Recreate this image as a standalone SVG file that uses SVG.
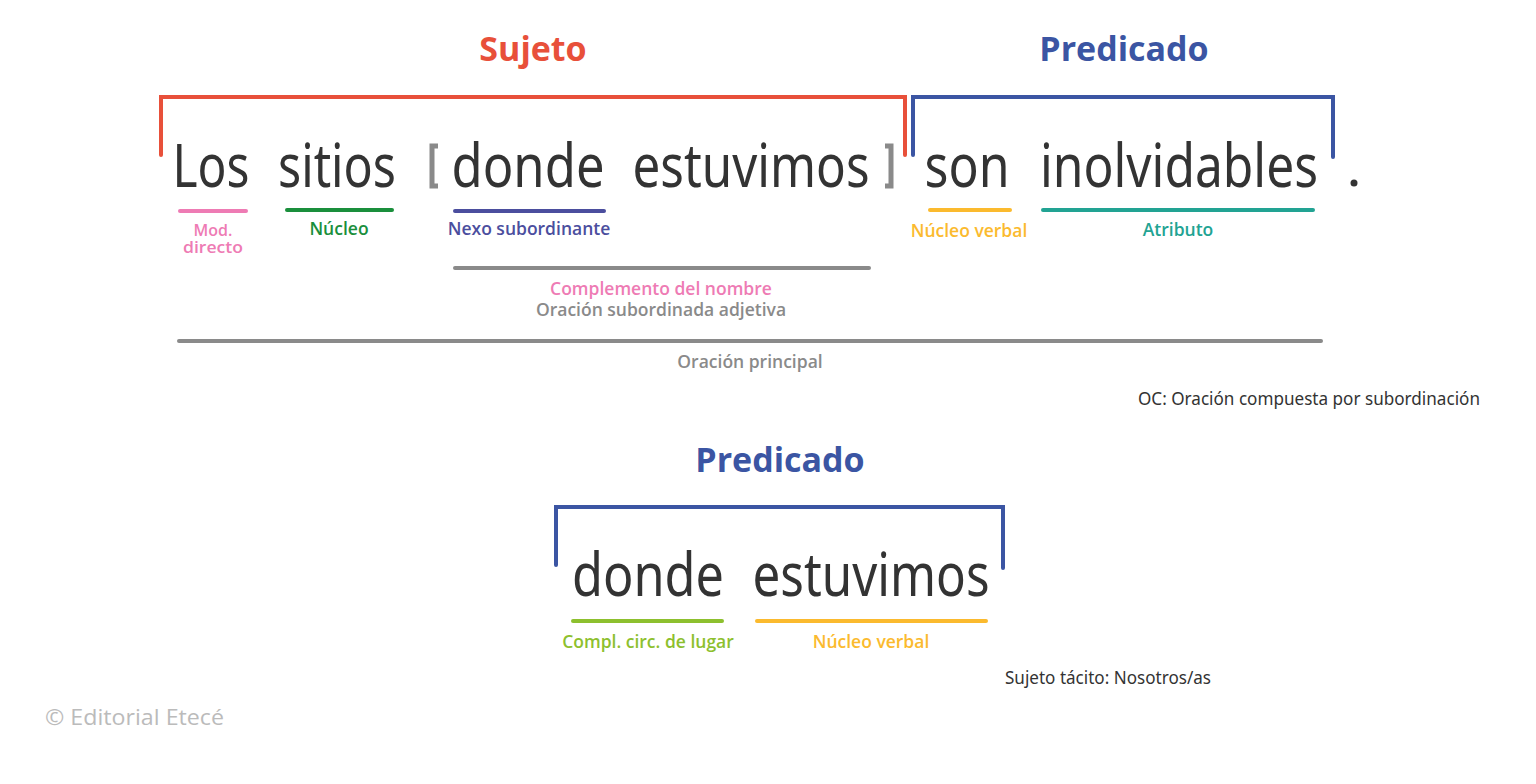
<svg xmlns="http://www.w3.org/2000/svg" width="1536" height="784" viewBox="0 0 1536 784">
<style>
.w{font-family:"Noto Sans","Open Sans",sans-serif;font-size:60px;fill:#333;text-anchor:middle}
.h{font-family:"Open Sans","Noto Sans",sans-serif;font-size:34px;font-weight:700;text-anchor:middle}
.l{font-family:"Open Sans","Noto Sans",sans-serif;font-size:17.5px;font-weight:600;text-anchor:middle}
.s{font-size:16px}
.n{font-family:"Noto Sans","Open Sans",sans-serif;font-size:18px;fill:#333}
.br{fill:none;stroke-width:4;stroke-linecap:round}
.u{stroke-width:4;stroke-linecap:round}
.sq{fill:none;stroke:#8a8a8a;stroke-width:5}
</style>
<rect width="1536" height="784" fill="#fff"/>
<g id="top-sentence">
<text class="h" x="533" y="61" fill="#E8503A">Sujeto</text>
<text class="h" x="1124" y="61" fill="#3B55A3">Predicado</text>
<path class="br" stroke="#E8503A" d="M161,155 V97 H905 V155"/>
<path class="br" stroke="#3B55A3" d="M913,155 V97 H1333 V157"/>
<text class="w" x="211" y="187" textLength="77" lengthAdjust="spacingAndGlyphs">Los</text>
<text class="w" x="337" y="187" textLength="118" lengthAdjust="spacingAndGlyphs">sitios</text>
<path class="sq" d="M438,146 H432 V186 H438"/>
<text class="w" x="528" y="187" textLength="153" lengthAdjust="spacingAndGlyphs">donde</text>
<text class="w" x="751" y="187" textLength="237" lengthAdjust="spacingAndGlyphs">estuvimos</text>
<path class="sq" d="M885,146 H891 V186 H885"/>
<text class="w" x="967" y="187" textLength="85" lengthAdjust="spacingAndGlyphs">son</text>
<text class="w" x="1179" y="187" textLength="278" lengthAdjust="spacingAndGlyphs">inolvidables</text>
<circle cx="1354" cy="183" r="3.5" fill="#333"/>
</g>
<g id="top-labels">
<line class="u" x1="180" y1="211" x2="246" y2="211" stroke="#EE7BB4"/>
<text class="l s" x="213" y="236" fill="#EE7BB4">Mod.</text>
<text class="l s" x="213" y="253" fill="#EE7BB4" textLength="60" lengthAdjust="spacingAndGlyphs">directo</text>
<line class="u" x1="287" y1="210" x2="392" y2="210" stroke="#1A8F3C"/>
<text class="l" x="339" y="235" fill="#1A8F3C">Núcleo</text>
<line class="u" x1="455" y1="211" x2="604" y2="211" stroke="#4B4E9E"/>
<text class="l" x="529" y="235" fill="#4B4E9E">Nexo subordinante</text>
<line class="u" x1="930" y1="210" x2="1010" y2="210" stroke="#FBBA2E"/>
<text class="l" x="969" y="237" fill="#FBBA2E">Núcleo verbal</text>
<line class="u" x1="1043" y1="210" x2="1313" y2="210" stroke="#22A393"/>
<text class="l" x="1178" y="236" fill="#22A393">Atributo</text>
<line class="u" x1="455" y1="268" x2="869" y2="268" stroke="#8a8a8a"/>
<text class="l" x="661" y="295" fill="#EE7BB4">Complemento del nombre</text>
<text class="l" x="661" y="316" fill="#8a8a8a">Oración subordinada adjetiva</text>
<line class="u" x1="179" y1="341" x2="1321" y2="341" stroke="#8a8a8a"/>
<text class="l" x="750" y="368" fill="#8a8a8a">Oración principal</text>
<text class="n" x="1138" y="405" textLength="342" lengthAdjust="spacingAndGlyphs">OC: Oración compuesta por subordinación</text>
</g>
<g id="bottom-sentence">
<text class="h" x="780" y="472" fill="#3B55A3">Predicado</text>
<path class="br" stroke="#3B55A3" d="M556,565 V507 H1003 V568"/>
<text class="w" x="648" y="596" textLength="152" lengthAdjust="spacingAndGlyphs">donde</text>
<text class="w" x="871" y="596" textLength="237" lengthAdjust="spacingAndGlyphs">estuvimos</text>
<line class="u" x1="573" y1="621" x2="722" y2="621" stroke="#8DC02E"/>
<text class="l" x="648" y="648" fill="#8DC02E">Compl. circ. de lugar</text>
<line class="u" x1="757" y1="621" x2="986" y2="621" stroke="#FBBA2E"/>
<text class="l" x="871" y="648" fill="#FBBA2E">Núcleo verbal</text>
<text class="n" x="1005" y="684" textLength="206" lengthAdjust="spacingAndGlyphs">Sujeto tácito: Nosotros/as</text>
</g>
<text x="45" y="725" font-family="Open Sans, Noto Sans, sans-serif" font-size="22" fill="#bbb" textLength="179" lengthAdjust="spacingAndGlyphs">© Editorial Etecé</text>
</svg>
